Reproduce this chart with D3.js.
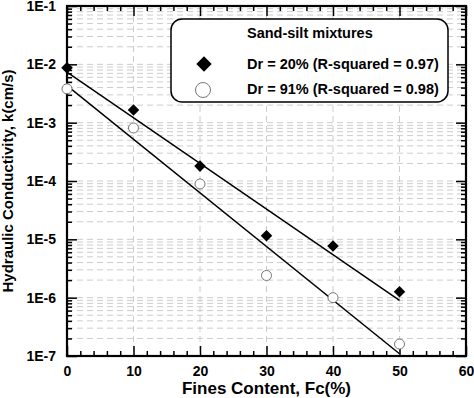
<!DOCTYPE html>
<html>
<head>
<meta charset="utf-8">
<script src="https://cdn.jsdelivr.net/npm/d3@7"></script>
<style>
  body { margin: 0; background: #fff; }
  svg text { font-family: "Liberation Sans", Arial, sans-serif; font-weight: bold; }
</style>
</head>
<body>
<div id="chart"></div>
<script>
// data
const fines = [0, 10, 20, 30, 40, 50];
const kDr20 = [8.7e-3, 1.65e-3, 1.8e-4, 1.15e-5, 7.7e-6, 1.26e-6];
const kDr91 = [3.8e-3, 8.1e-4, 8.9e-5, 2.4e-6, 1.0e-6, 1.6e-7];
const xTicks = [0, 10, 20, 30, 40, 50, 60];
const yDecades = [1e-1, 1e-2, 1e-3, 1e-4, 1e-5, 1e-6, 1e-7];
const yTickLabels = ["1E-1", "1E-2", "1E-3", "1E-4", "1E-5", "1E-6", "1E-7"];
const legendTitle = "Sand-silt mixtures";
const legendLabels = ["Dr = 20% (R-squared = 0.97)", "Dr = 91% (R-squared = 0.98)"];

const W = 474, H = 398;
const margin = { left: 67, top: 6, right: 8, bottom: 42 };
const width = W - margin.left - margin.right;
const height = H - margin.top - margin.bottom;

const svg = d3.select("#chart").append("svg")
    .attr("width", W)
    .attr("height", H);

const g = svg.append("g").attr("transform", `translate(${margin.left},${margin.top})`);

const x = d3.scaleLinear().domain([0, 60]).range([0, width]);
const y = d3.scaleLog().domain([1e-7, 1e-1]).range([height, 0]);

// minor values inside each decade
const yMinor = [];
for (let e = -7; e < -1; e++) {
    for (let m = 2; m <= 9; m++) yMinor.push(m * Math.pow(10, e));
}
const xMinor = d3.range(0, 61, 2).filter(v => v % 10 != 0);

// grid
const grid = g.append("g").attr("stroke", "#cccccc").attr("stroke-dasharray", "6,4").attr("stroke-width", 1);
grid.selectAll(".hg")
    .data(yMinor.concat(yDecades.slice(1, 6)))
    .join("line")
    .attr("x1", 0).attr("x2", width)
    .attr("y1", d => y(d)).attr("y2", d => y(d));
grid.selectAll(".vg")
    .data(xTicks.slice(1, 6))
    .join("line")
    .attr("x1", d => x(d)).attr("x2", d => x(d))
    .attr("y1", 0).attr("y2", height);

// axes, ticks inward on all 4 sides
function styleAxis(sel) {
    sel.select(".domain").remove();
    sel.selectAll(".tick line").attr("stroke", "#000").attr("stroke-width", 1.5);
    sel.selectAll("text").attr("fill", "#000").style("font-size", "14px");
}

g.append("g").attr("transform", `translate(0,${height})`)
    .call(d3.axisBottom(x).tickValues(xTicks).tickFormat(d3.format("d")).tickSizeInner(-10).tickPadding(10))
    .call(styleAxis);
g.append("g").attr("transform", `translate(0,${height})`)
    .call(d3.axisBottom(x).tickValues(xMinor).tickFormat("").tickSizeInner(-5))
    .call(styleAxis);
g.append("g")
    .call(d3.axisTop(x).tickValues(xTicks).tickFormat("").tickSizeInner(-10))
    .call(styleAxis);
g.append("g")
    .call(d3.axisTop(x).tickValues(xMinor).tickFormat("").tickSizeInner(-5))
    .call(styleAxis);

g.append("g")
    .call(d3.axisLeft(y).tickValues(yDecades).tickFormat((d, i) => yTickLabels[i]).tickSizeInner(-10).tickPadding(11))
    .call(styleAxis);
g.append("g")
    .call(d3.axisLeft(y).tickValues(yMinor).tickFormat("").tickSizeInner(-5))
    .call(styleAxis);
g.append("g").attr("transform", `translate(${width},0)`)
    .call(d3.axisRight(y).tickValues(yDecades).tickFormat("").tickSizeInner(-10))
    .call(styleAxis);
g.append("g").attr("transform", `translate(${width},0)`)
    .call(d3.axisRight(y).tickValues(yMinor).tickFormat("").tickSizeInner(-5))
    .call(styleAxis);

// frame
g.append("rect")
    .attr("width", width).attr("height", height)
    .attr("fill", "none").attr("stroke", "#000").attr("stroke-width", 2.2);

// log-linear regression lines
function fit(vals) {
    const ly = vals.map(v => Math.log10(v));
    const mx = d3.mean(fines), my = d3.mean(ly);
    const sxy = d3.sum(fines, (f, i) => (f - mx) * (ly[i] - my));
    const sxx = d3.sum(fines, f => (f - mx) * (f - mx));
    const b = sxy / sxx, a = my - b * mx;
    return f => Math.pow(10, a + b * f);
}
const line = d3.line().x(d => x(d[0])).y(d => y(d[1]));
[kDr20, kDr91].forEach(vals => {
    const f = fit(vals);
    const ends = [0, 50];
    g.append("path")
        .datum(ends.map(e => [e, f(e)]))
        .attr("d", line)
        .attr("fill", "none").attr("stroke", "#000").attr("stroke-width", 1.5);
});

// points
const diamond = d3.symbol().type(d3.symbolDiamond2);
g.selectAll(".dia")
    .data(fines.map((f, i) => [f, kDr20[i]]))
    .join("path")
    .attr("transform", d => `translate(${x(d[0])},${y(d[1])})`)
    .attr("d", diamond.size(85)())
    .attr("fill", "#000");
g.selectAll(".circ")
    .data(fines.map((f, i) => [f, kDr91[i]]))
    .join("circle")
    .attr("cx", d => x(d[0])).attr("cy", d => y(d[1]))
    .attr("r", 5)
    .attr("fill", "#fff").attr("stroke", "#777").attr("stroke-width", 1);

// legend
const leg = svg.append("g");
leg.append("rect")
    .attr("x", 171).attr("y", 19).attr("width", 277).attr("height", 83)
    .attr("rx", 11).attr("ry", 11)
    .attr("fill", "#fff").attr("stroke", "#000").attr("stroke-width", 1.5);
leg.append("text").attr("x", 247).attr("y", 38).style("font-size", "14.5px").text(legendTitle);
leg.append("path")
    .attr("transform", "translate(204,64)")
    .attr("d", d3.symbol().type(d3.symbolDiamond2).size(150)())
    .attr("fill", "#000");
leg.append("circle")
    .attr("cx", 203).attr("cy", 90).attr("r", 7.5)
    .attr("fill", "#fff").attr("stroke", "#777").attr("stroke-width", 1);
legendLabels.forEach((t, i) => {
    leg.append("text").attr("x", 247).attr("y", 69 + i * 25).style("font-size", "14.5px").text(t);
});

// axis titles
svg.append("text")
    .attr("x", margin.left + width / 2).attr("y", 394)
    .attr("text-anchor", "middle").style("font-size", "17px")
    .text("Fines Content, Fc(%)");
svg.append("text")
    .attr("transform", `translate(13,${margin.top + height / 2}) rotate(-90)`)
    .attr("text-anchor", "middle").style("font-size", "15px")
    .text("Hydraulic Conductivity, k(cm/s)");
</script>
</body>
</html>
